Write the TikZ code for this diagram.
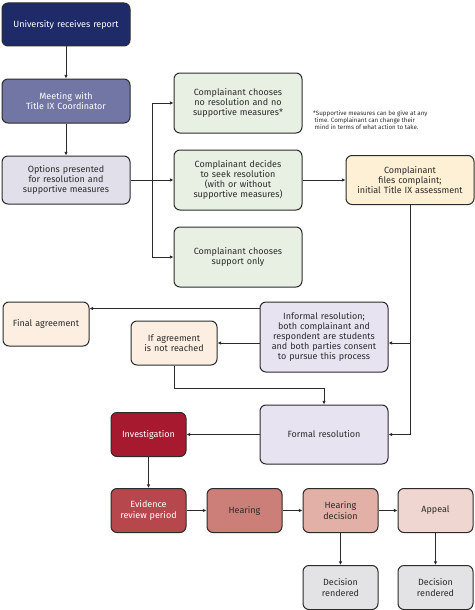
\documentclass[tikz,border=0pt]{standalone}
\usepackage{fontspec}
\setmainfont{Fira Sans}
\usepackage{tikz}
\usetikzlibrary{positioning}
\usetikzlibrary{arrows.meta}
\tikzset{>={Latex[width=3.4pt,length=3.6pt]}}
\definecolor{navy}{HTML}{1F2B68}
\definecolor{slate}{HTML}{7276A5}
\definecolor{optgray}{HTML}{E1E0EA}
\definecolor{sage}{HTML}{E8F0E4}
\definecolor{cream}{HTML}{FDF0D5}
\definecolor{peach}{HTML}{FCEFE2}
\definecolor{lavender}{HTML}{E7E3F1}
\definecolor{crimson}{HTML}{A6192E}
\definecolor{brick}{HTML}{B5474D}
\definecolor{rose}{HTML}{CC7F78}
\definecolor{blush}{HTML}{E2B0A6}
\definecolor{pale}{HTML}{F0D6D0}
\definecolor{ash}{HTML}{E3E3E5}
\definecolor{ink}{HTML}{2B2B2B}

\begin{document}
\begin{tikzpicture}[x=1pt, y=-1pt, font=\fontsize{9}{10.2}\selectfont, text=ink, box/.style={rectangle, rounded corners=6pt, draw=ink, line width=1pt, align=center, inner sep=2pt, text width=124pt, minimum width=128pt}, smallbox/.style={box, text width=82pt, minimum width=86pt, minimum height=44pt}, stepbox/.style={box, text width=71pt, minimum width=75pt, minimum height=44pt}, line/.style={draw=ink, line width=0.8pt}]
    \useasboundingbox (0,0) rectangle (474,610);

    %Nodes
    \node[box, fill=navy, text=white, minimum height=43pt](report) at (66,24.5){University receives report};
    \node[box, fill=slate, text=white, minimum height=44pt](meeting)[below=32pt of report]{Meeting with\\Title IX Coordinator};
    \node[box, fill=optgray, minimum height=48pt](options)[below=32pt of meeting]{Options presented\\for resolution and\\supportive measures};
    \node[box, fill=sage, minimum height=60pt](seek)[right=43pt of options]{Complainant decides\\to seek resolution\\(with or without\\supportive measures)};
    \node[box, fill=sage, minimum height=60pt](nores)[above=16pt of seek]{Complainant chooses\\no resolution and no\\supportive measures*};
    \node[box, fill=sage, minimum height=60pt](support)[below=16pt of seek]{Complainant chooses\\support only};
    \node[box, fill=cream, minimum height=49pt](files)[right=43pt of seek]{Complainant\\files complaint;\\initial Title IX assessment};
    \node[anchor=north west, align=left, inner sep=0pt, font=\fontsize{6.2}{7}\selectfont](note) at (313,110){*Supportive measures can be give at any\\\hspace{1.5pt}time. Complainant can change their\\\hspace{1.5pt}mind in terms of what action to take.};
    \node[box, fill=lavender, minimum height=70pt](informal) at (324,337){Informal resolution;\\both complainant and\\respondent are students\\and both parties consent\\to pursue this process};
    \node[box, fill=lavender, minimum height=59pt](formal)[below=32pt of informal]{Formal resolution};
    \node[smallbox, fill=peach](ifagree) at (174,343){If agreement\\is not reached};
    \node[smallbox, fill=peach](final) at (46,324){Final agreement};
    \node[stepbox, fill=crimson, text=white](investigation)[left=73pt of formal]{Investigation};
    \node[stepbox, fill=brick, text=white](evidence)[below=31pt of investigation]{Evidence\\review period};
    \node[stepbox, fill=rose](hearing)[right=20pt of evidence]{Hearing};
    \node[stepbox, fill=blush](hdecision)[right=20pt of hearing]{Hearing\\decision};
    \node[stepbox, fill=pale](appeal)[right=19pt of hdecision]{Appeal};
    \node[stepbox, fill=ash](rendered)[below=32pt of hdecision]{Decision\\rendered};
    \node[stepbox, fill=ash](rendered2)[below=32pt of appeal]{Decision\\rendered};
    \coordinate (split) at (152,178);
    \coordinate (agree) at ([yshift=-7pt]informal.north west);

    %Lines
    \draw[line, ->] (report) -- (meeting);
    \draw[line, ->] (meeting) -- (options);
    \draw[line, ->] (options.east) -- (seek.west);
    \draw[line, ->] (split) |- (nores.west);
    \draw[line, ->] (split) |- (support.west);
    \draw[line, ->] (seek) -- (files);
    \draw[line, ->] (files.south) |- (formal.east);
    \draw[line, ->] (files.south |- ifagree) -- (informal.east |- ifagree);
    \draw[line, ->] (agree) -- (agree -| final.east);
    \draw[line, ->] (informal.west |- ifagree) -- (ifagree);
    \draw[line, ->] (ifagree.south) -- ++(0,23) -| (formal.north);
    \draw[line, ->] (formal) -- (investigation);
    \draw[line, ->] (investigation) -- (evidence);
    \draw[line, ->] (evidence) -- (hearing);
    \draw[line, ->] (hearing) -- (hdecision);
    \draw[line, ->] (hdecision) -- (appeal);
    \draw[line, ->] (hdecision) -- (rendered);
    \draw[line, ->] (appeal) -- (rendered2);

\end{tikzpicture}
\end{document}
